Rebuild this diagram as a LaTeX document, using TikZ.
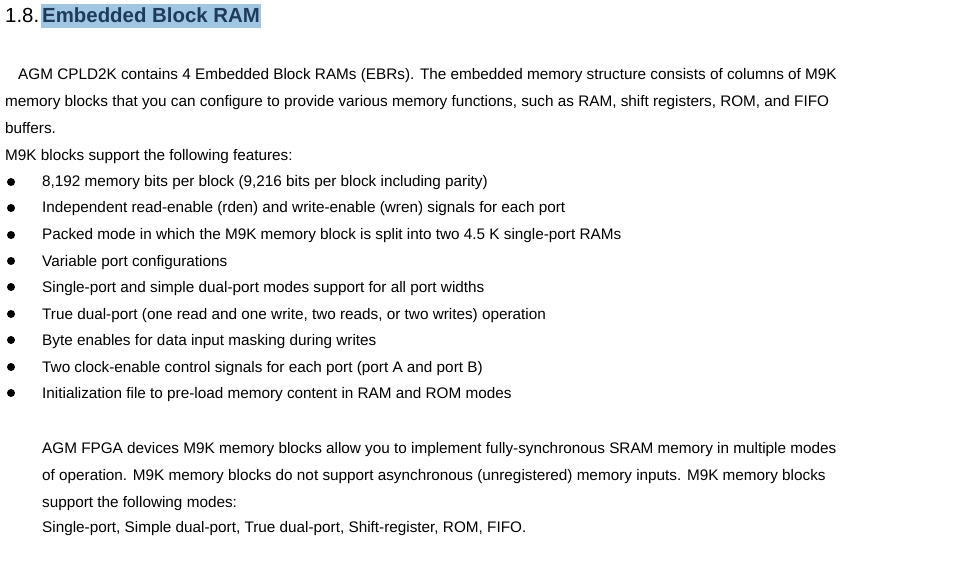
\documentclass[tikz,border=0pt]{standalone}
\usepackage{fontspec}
\setmainfont{Liberation Sans}
\definecolor{hl}{RGB}{160,198,228}
\definecolor{hd}{RGB}{30,60,90}
\begin{document}
\begin{tikzpicture}[x=1pt,y=-1pt,
  t/.style={anchor=base west,inner sep=0pt,font=\fontsize{15.3}{17}\selectfont},
  bul/.style={circle,fill=black,inner sep=0pt,minimum size=8pt}]
\useasboundingbox[fill=white] (0,0) rectangle (957,569);
\fill[hl] (41,4) rectangle (261,28);
\node[t,font=\fontsize{20.4}{23}\selectfont] (h1) at (5,23) {1.8.};
\node[t,font=\fontsize{20.4}{23}\selectfont\bfseries,text=hd] (h2) at (42,23) {Embedded Block RAM};
\node[t] (p1) at (18,80) {AGM CPLD2K contains 4 Embedded Block RAMs (EBRs). The embedded memory structure consists of columns of M9K};
\node[t] (p2) at (5,107) {memory blocks that you can configure to provide various memory functions, such as RAM, shift registers, ROM, and FIFO};
\node[t] (p3) at (5,134) {buffers.};
\node[t] (p4) at (5,161) {M9K blocks support the following features:};
\foreach \y/\s [count=\i] in {187/{8,192 memory bits per block (9,216 bits per block including parity)},
 213/{Independent read-enable (rden) and write-enable (wren) signals for each port},
 240/{Packed mode in which the M9K memory block is split into two 4.5 K single-port RAMs},
 266/{Variable port configurations},
 292/{Single-port and simple dual-port modes support for all port widths},
 319/{True dual-port (one read and one write, two reads, or two writes) operation},
 345/{Byte enables for data input masking during writes},
 372/{Two clock-enable control signals for each port (port A and port B)},
 398/{Initialization file to pre-load memory content in RAM and ROM modes}}{
  \node[bul] (b\i) at (11,\y-5) {};
  \node[t] (l\i) at (42,\y) {\s};
}
\node[t] (q1) at (42,453) {AGM FPGA devices M9K memory blocks allow you to implement fully-synchronous SRAM memory in multiple modes};
\node[t] (q2) at (42,480) {of operation. M9K memory blocks do not support asynchronous (unregistered) memory inputs. M9K memory blocks};
\node[t] (q3) at (42,507) {support the following modes:};
\node[t] (q4) at (42,532) {Single-port, Simple dual-port, True dual-port, Shift-register, ROM, FIFO.};
\end{tikzpicture}
\end{document}
